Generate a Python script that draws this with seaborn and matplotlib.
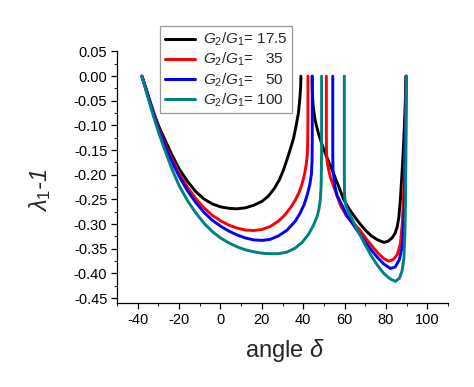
import matplotlib
matplotlib.use("Agg")
import matplotlib.pyplot as plt
import seaborn as sns
import pandas as pd
from matplotlib.ticker import MultipleLocator, FormatStrFormatter

# ---------------- data ----------------
series_labels = [r"$G_2/G_1$= 17.5", r"$G_2/G_1$=   35", r"$G_2/G_1$=   50", r"$G_2/G_1$= 100"]
series_colors = ["#000000", "#ff0000", "#0000ff", "#008080"]

# G2/G1 = 17.5
black_left_x = [-38, -36, -34, -32, -30, -27, -24, -20, -16, -12, -8, -4, 0, 4, 8, 12, 16, 20, 23, 26,
                28.5, 30.5, 32.5, 34, 35.4, 36.6, 37.7, 38.4, 38.8, 38.9]
black_left_y = [0, -0.025, -0.052, -0.077, -0.100, -0.128, -0.155, -0.188, -0.213, -0.234, -0.249, -0.259,
                -0.265, -0.268, -0.269, -0.267, -0.262, -0.254, -0.244, -0.228, -0.210, -0.190, -0.165,
                -0.145, -0.125, -0.100, -0.075, -0.045, -0.020, 0]
black_right_x = [44.3, 44.4, 44.8, 45.8, 47.3, 48.8, 51, 54, 57, 59.6, 62, 64.5, 67, 70, 73, 76, 79, 81,
                 83, 84.5, 85.5, 86.3, 87, 87.6, 88.3, 88.9, 89.4, 89.7]
black_right_y = [0, -0.030, -0.060, -0.090, -0.115, -0.135, -0.160, -0.190, -0.222, -0.250, -0.268, -0.283,
                 -0.297, -0.312, -0.324, -0.332, -0.337, -0.335, -0.328, -0.318, -0.305, -0.285, -0.250,
                 -0.210, -0.160, -0.105, -0.050, 0]

# G2/G1 = 35
red_left_x = [-38, -36, -34, -32, -30, -27, -24, -20, -16, -12, -8, -4, 0, 4, 8, 12, 16, 20, 24, 28, 31,
              34, 36.2, 38, 39.5, 40.7, 41.5, 42, 42.2, 42.3, 42.3]
red_left_y = [0, -0.026, -0.054, -0.080, -0.104, -0.135, -0.164, -0.197, -0.225, -0.248, -0.267, -0.282,
              -0.293, -0.302, -0.308, -0.312, -0.313, -0.311, -0.305, -0.294, -0.282, -0.266, -0.251,
              -0.236, -0.218, -0.198, -0.178, -0.158, -0.130, -0.080, 0]
red_right_x = [51.2, 51.2, 51.3, 51.8, 53.2, 55.5, 58, 61, 64, 67, 70, 73, 76, 79, 81.4, 83.5, 85.5, 87,
               87.9, 88.5, 88.9, 89.3, 89.6, 89.8]
red_right_y = [0, -0.120, -0.160, -0.180, -0.206, -0.232, -0.262, -0.284, -0.297, -0.310, -0.327, -0.343,
               -0.358, -0.370, -0.375, -0.372, -0.362, -0.340, -0.300, -0.250, -0.200, -0.130, -0.060, 0]

# G2/G1 = 50
blue_left_x = [-38, -36, -34, -32, -30, -27, -24, -20, -16, -12, -8, -4, 0, 4, 8, 12, 16, 20, 24, 28, 32,
               36.2, 38.5, 40.5, 42, 43.2, 44, 44.3, 44.4, 44.4]
blue_left_y = [0, -0.027, -0.055, -0.082, -0.107, -0.139, -0.169, -0.203, -0.232, -0.256, -0.276, -0.292,
               -0.304, -0.314, -0.322, -0.328, -0.332, -0.333, -0.331, -0.324, -0.313, -0.294, -0.278,
               -0.260, -0.240, -0.220, -0.198, -0.170, -0.120, 0]
blue_right_x = [54.3, 54.3, 54.4, 55.3, 56.4, 58.8, 61.2, 64, 67, 70, 73, 76, 79, 82.2, 84.5, 86.5, 87.9,
                88.6, 89.1, 89.5, 89.7, 89.8]
blue_right_y = [0, -0.150, -0.190, -0.222, -0.242, -0.262, -0.283, -0.300, -0.318, -0.336, -0.353, -0.368,
                -0.381, -0.390, -0.387, -0.372, -0.345, -0.300, -0.240, -0.150, -0.070, 0]

# G2/G1 = 100
teal_left_x = [-38, -36, -34, -32, -30, -28, -26, -23.5, -20, -16, -12, -8, -4, 0, 4, 8, 12, 16, 20, 24,
               28, 32, 36, 39.5, 42.7, 45, 46.7, 47.6, 48.3, 48.7, 48.9, 48.9]
teal_left_y = [0, -0.030, -0.059, -0.087, -0.113, -0.137, -0.160, -0.188, -0.222, -0.252, -0.277, -0.298,
               -0.315, -0.328, -0.338, -0.346, -0.352, -0.356, -0.359, -0.360, -0.360, -0.357, -0.349,
               -0.337, -0.320, -0.302, -0.285, -0.270, -0.250, -0.220, -0.150, 0]
teal_right_x = [59.9, 59.9, 60, 60.6, 62, 64, 67, 70.1, 73, 76, 79, 82, 84.6, 86.5, 87.8, 88.7, 89.2,
                89.5, 89.7, 89.8, 89.9]
teal_right_y = [0, -0.200, -0.240, -0.262, -0.276, -0.293, -0.318, -0.343, -0.365, -0.384, -0.400,
                -0.411, -0.416, -0.410, -0.395, -0.370, -0.320, -0.250, -0.150, -0.050, 0]

x_ticks = [-40, -20, 0, 20, 40, 60, 80, 100]
y_ticks = [0.05, 0.00, -0.05, -0.10, -0.15, -0.20, -0.25, -0.30, -0.35, -0.40, -0.45]

# ---------------- build long table ----------------
branches = [
    (series_labels[0], "left", black_left_x, black_left_y),
    (series_labels[0], "right", black_right_x, black_right_y),
    (series_labels[1], "left", red_left_x, red_left_y),
    (series_labels[1], "right", red_right_x, red_right_y),
    (series_labels[2], "left", blue_left_x, blue_left_y),
    (series_labels[2], "right", blue_right_x, blue_right_y),
    (series_labels[3], "left", teal_left_x, teal_left_y),
    (series_labels[3], "right", teal_right_x, teal_right_y),
]
rows = []
for lab, br, xs, ys in branches:
    for i, (xv, yv) in enumerate(zip(xs, ys)):
        rows.append({"series": lab, "branch": br, "order": i, "x": xv, "y": yv})
df = pd.DataFrame(rows)

# ---------------- style ----------------
sns.set_theme(style="ticks")
plt.rcParams["font.family"] = ["Liberation Sans", "DejaVu Sans"]
plt.rcParams["mathtext.fontset"] = "custom"
plt.rcParams["mathtext.rm"] = "Liberation Sans"
plt.rcParams["mathtext.it"] = "Liberation Sans:italic"
plt.rcParams["mathtext.bf"] = "Liberation Sans:bold"
plt.rcParams["axes.unicode_minus"] = False

fig = plt.figure(figsize=(4.74, 3.87), dpi=100)
ax = fig.add_axes([0.247, 0.217, 0.698, 0.650])

sns.lineplot(data=df, x="x", y="y", hue="series", units="branch", estimator=None, sort=False,
             hue_order=series_labels, palette=series_colors, linewidth=2.1, ax=ax, legend=True)

ax.set_xlim(-50, 110)
ax.set_ylim(-0.46, 0.05)
ax.set_xticks(x_ticks)
ax.set_yticks(y_ticks)
ax.xaxis.set_minor_locator(MultipleLocator(10))
ax.yaxis.set_minor_locator(MultipleLocator(0.025))
ax.yaxis.set_major_formatter(FormatStrFormatter("%.2f"))
ax.tick_params(axis="both", which="major", direction="out", length=4, width=0.9,
               labelsize=10.5, pad=3, colors="black")
ax.tick_params(axis="both", which="minor", direction="out", length=2, width=0.8)
for s in ["top", "right"]:
    ax.spines[s].set_visible(False)
for s in ["left", "bottom"]:
    ax.spines[s].set_linewidth(0.9)
    ax.spines[s].set_color("black")

ax.set_xlabel(r"angle $\delta$", fontsize=17)
ax.set_ylabel(r"$\lambda_1$-1", fontsize=17, style="italic")
ax.xaxis.set_label_coords(0.508, -0.135)
ax.yaxis.set_label_coords(-0.195, 0.45)

handles, labels = ax.get_legend_handles_labels()
if ax.legend_:
    ax.legend_.remove()
leg = ax.legend(handles, labels, loc="upper left", bbox_to_anchor=(0.338, 0.932),
                bbox_transform=fig.transFigure, frameon=True, fancybox=False,
                fontsize=11, handlelength=2.0, handletextpad=0.5, labelspacing=0.18,
                borderpad=0.3, borderaxespad=0)
leg.get_frame().set_edgecolor("#808080")
leg.get_frame().set_linewidth(0.9)
for h in leg.get_lines():
    h.set_linewidth(2.2)

fig.savefig("out.png", dpi=100)
